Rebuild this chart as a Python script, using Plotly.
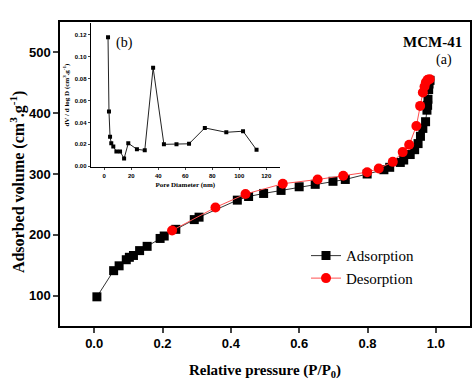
import plotly.graph_objects as go

# Main isotherm data
ads_p = [0.008, 0.057, 0.073, 0.094, 0.103, 0.115, 0.133, 0.155, 0.193, 0.205, 0.239, 0.293, 0.307,
         0.419, 0.452, 0.496, 0.547, 0.600, 0.647, 0.699, 0.735, 0.799, 0.848, 0.865, 0.896, 0.906,
         0.925, 0.938, 0.948, 0.955, 0.962, 0.970, 0.974, 0.976, 0.977, 0.979, 0.980, 0.983]
ads_v = [98, 141, 149, 159, 163, 166, 174, 181, 194, 198, 209, 225, 229,
         257, 263, 268, 273, 279, 283, 288, 291, 300, 307, 311, 319, 323,
         332, 340, 350, 362, 375, 386, 405, 413, 423, 439, 448, 454]

des_p = [0.228, 0.355, 0.443, 0.552, 0.654, 0.729, 0.799, 0.833, 0.874, 0.903, 0.922,
         0.943, 0.954, 0.962, 0.967, 0.971, 0.976, 0.982]
des_v = [207, 245, 267, 284, 291, 297, 303, 309, 320, 336, 348,
         379, 412, 434, 444, 451, 455, 456]

# Inset pore size distribution
pore_d = [2.8, 3.5, 4.3, 5.2, 6.7, 9.0, 11.7, 14.7, 17.8, 24.2, 30.0, 36.2, 44.2, 53.5, 62.8, 74.5,
          90.4, 102.8, 112.8]
pore_dv = [0.118, 0.050, 0.027, 0.021, 0.018, 0.0135, 0.0135, 0.007, 0.021, 0.0155, 0.0145, 0.090,
           0.020, 0.020, 0.0205, 0.035, 0.031, 0.032, 0.015]

x_ticks = [0.0, 0.2, 0.4, 0.6, 0.8, 1.0]
y_ticks = [100, 200, 300, 400, 500]

SERIF = "Liberation Serif, Times New Roman, serif"
SANS = "Liberation Sans, Arial, sans-serif"

fig = go.Figure()
fig.add_trace(go.Scatter(x=ads_p, y=ads_v, mode="lines+markers", name="Adsorption",
                         line=dict(color="#333333", width=1),
                         marker=dict(symbol="square", size=9, color="black")))
fig.add_trace(go.Scatter(x=des_p, y=des_v, mode="lines+markers", name="Desorption",
                         line=dict(color="#ff5050", width=1),
                         marker=dict(symbol="circle", size=10, color="#ff0000")))
fig.add_trace(go.Scatter(x=pore_d, y=pore_dv, mode="lines+markers", showlegend=False,
                         xaxis="x2", yaxis="y2",
                         line=dict(color="#222222", width=1),
                         marker=dict(symbol="square", size=4, color="black")))

fig.update_layout(
    width=474, height=386,
    margin=dict(l=60, r=2, t=22, b=60),
    paper_bgcolor="white", plot_bgcolor="white",
    xaxis=dict(range=[-0.1, 1.1], tickvals=x_ticks, ticktext=[f"{v:.1f}" for v in x_ticks],
               showline=True, mirror=True, linecolor="black", linewidth=1.5,
               ticks="outside", ticklen=5, tickwidth=1.5, showgrid=False, zeroline=False,
               tickfont=dict(family=SANS, size=13, color="black", weight="bold"),
               title=dict(text="Relative pressure (P/P<sub>0</sub>)", standoff=14,
                          font=dict(family=SERIF, size=15, color="black", weight="bold"))),
    yaxis=dict(range=[50, 550], tickvals=y_ticks,
               showline=True, mirror=True, linecolor="black", linewidth=1.5,
               ticks="outside", ticklen=5, tickwidth=1.5, showgrid=False, zeroline=False,
               tickfont=dict(family=SANS, size=13, color="black", weight="bold")),
    xaxis2=dict(domain=[0.075, 0.536], anchor="y2", range=[-10, 130], dtick=20, tick0=0,
                showline=True, linecolor="black", linewidth=1, ticks="outside", ticklen=2,
                showgrid=False, zeroline=False,
                tickfont=dict(family=SANS, size=6, color="black", weight="bold"),
                title=dict(text="Pore Diameter (nm)", standoff=4,
                           font=dict(family=SERIF, size=7, color="black", weight="bold"))),
    yaxis2=dict(domain=[0.522, 0.997], anchor="x2", range=[-0.001, 0.131], dtick=0.02, tick0=0,
                tickformat=".2f",
                showline=True, linecolor="black", linewidth=1, ticks="outside", ticklen=2,
                showgrid=False, zeroline=False,
                tickfont=dict(family=SANS, size=6, color="black", weight="bold"),
                title=dict(text="dV / d log D (cm<sup>3</sup>.g<sup>-1</sup>)", standoff=4,
                           font=dict(family=SERIF, size=7, color="black", weight="bold"))),
    legend=dict(x=0.6, y=0.285, xanchor="left", yanchor="top", bgcolor="rgba(0,0,0,0)",
                font=dict(family=SERIF, size=15, color="black"), tracegroupgap=0),
    annotations=[
        dict(text="<b>Adsorbed volume (cm<sup>3</sup>.g<sup>-1</sup>)</b>", textangle=-90,
             x=-0.102, y=0.474, xref="paper", yref="paper",
             xanchor="center", yanchor="middle", showarrow=False,
             font=dict(family=SERIF, size=16, color="black")),
        dict(text="<b>MCM-41</b>", x=0.985, y=0.935, xref="paper", yref="paper",
             xanchor="right", yanchor="middle", showarrow=False,
             font=dict(family=SERIF, size=15, color="black")),
        dict(text="(a)", x=0.96, y=0.875, xref="paper", yref="paper",
             xanchor="right", yanchor="middle", showarrow=False,
             font=dict(family=SERIF, size=14, color="black")),
        dict(text="(b)", x=0.157, y=0.932, xref="paper", yref="paper",
             xanchor="center", yanchor="middle", showarrow=False,
             font=dict(family=SERIF, size=14, color="black")),
    ],
)

fig.write_html("out.html", config={"displayModeBar": False},
               post_script="document.body.style.margin='0';")
